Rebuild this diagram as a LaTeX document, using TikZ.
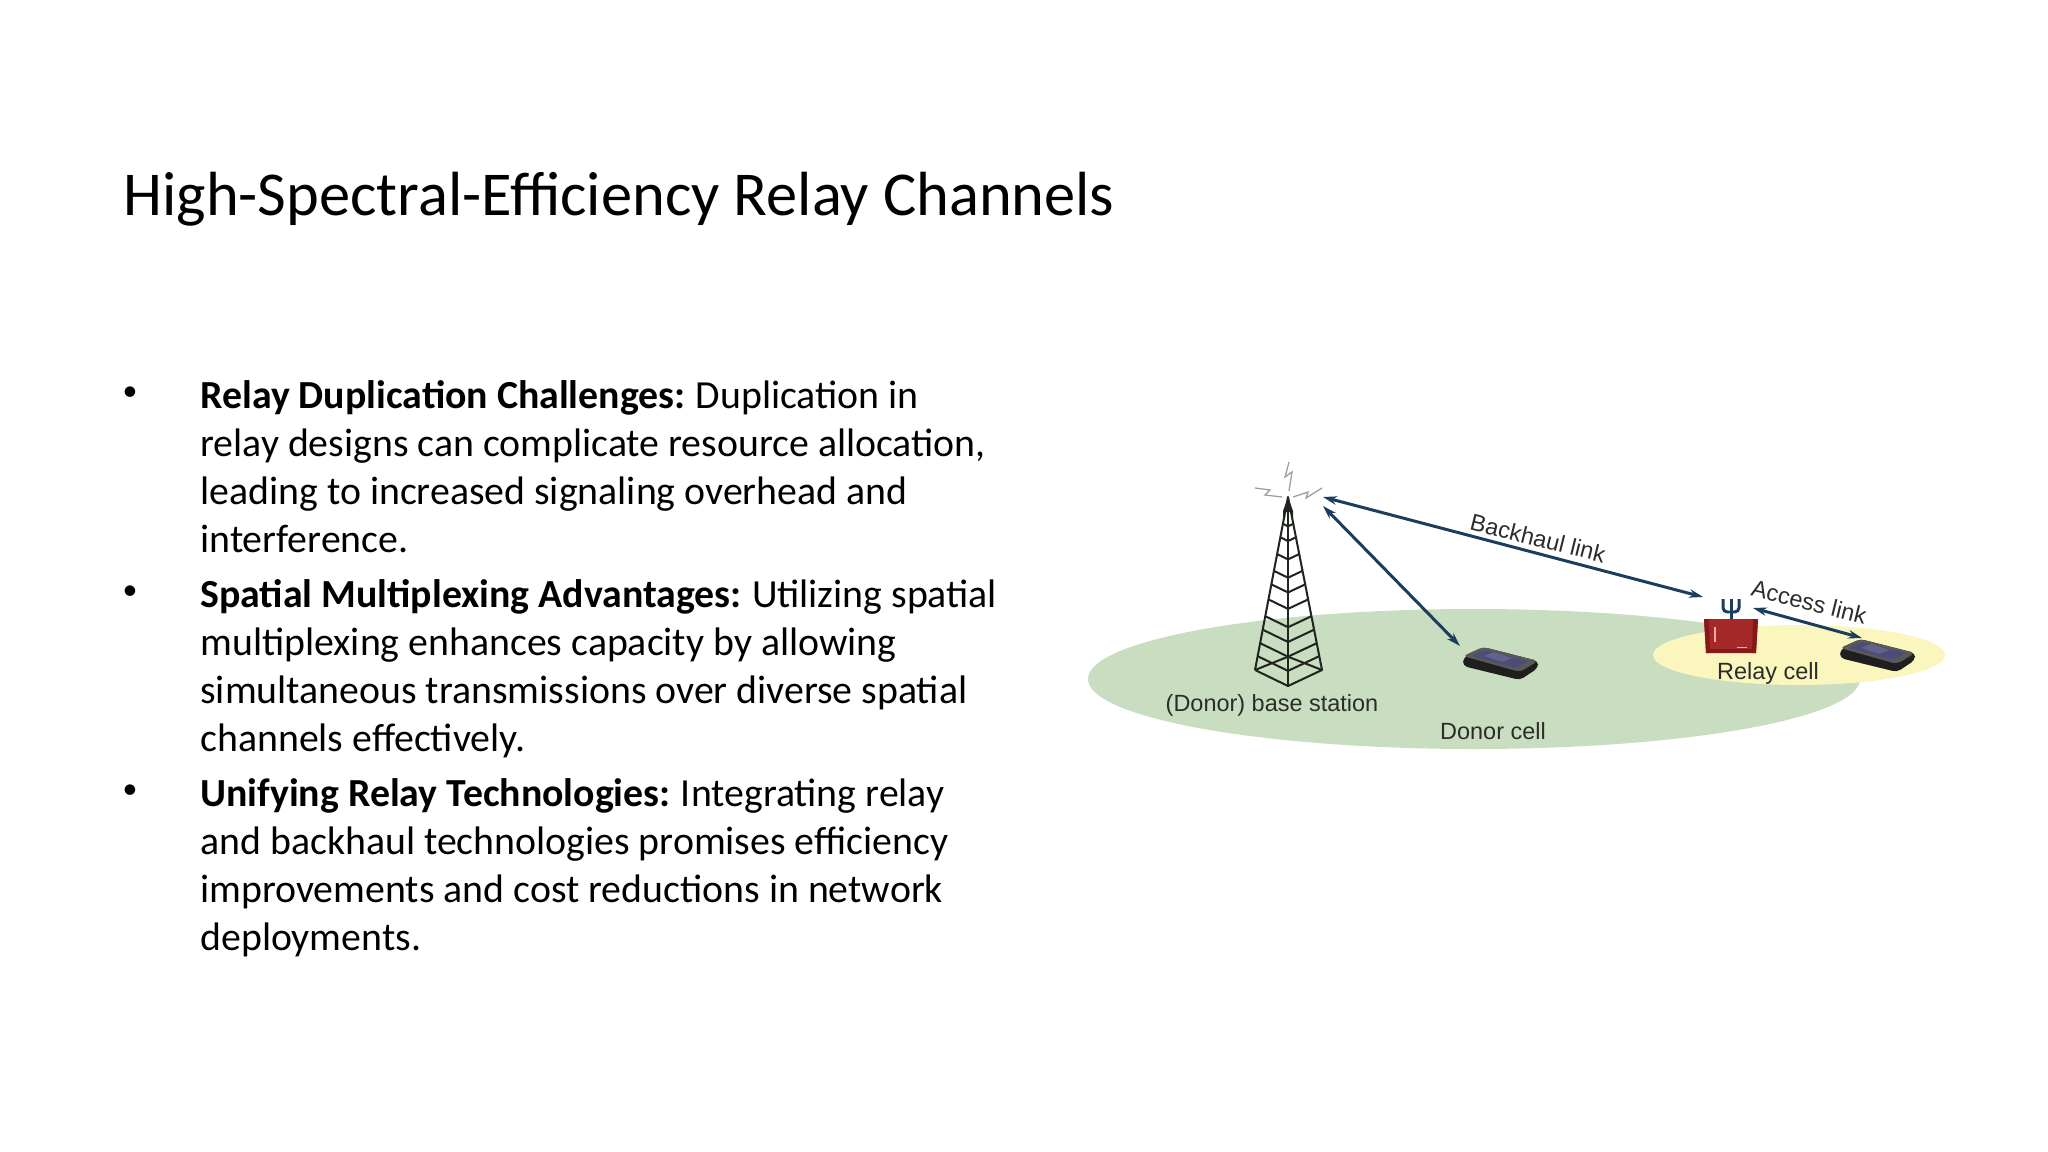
\documentclass[tikz,border=0pt]{standalone}
\usepackage{fontspec}
\setmainfont{Carlito}
\newfontfamily\labelfont{Liberation Sans}
\usetikzlibrary{arrows.meta,calc}
\definecolor{donorgreen}{HTML}{C9DDC0}
\definecolor{relayyellow}{HTML}{FAF6BE}
\definecolor{linkblue}{HTML}{1B3D5E}
\definecolor{towergrey}{HTML}{20261F}
\definecolor{labelgrey}{HTML}{2A2E2A}
\definecolor{relayred}{HTML}{A42A2A}
\definecolor{relaydark}{HTML}{86181A}
\tikzset{
  titletext/.style={anchor=base west,inner sep=0pt,font=\fontsize{29.26}{36}\selectfont},
  bodytext/.style={anchor=base west,inner sep=0pt,align=left,font=\fontsize{18.66}{22.4}\selectfont},
  bullettext/.style={inner sep=0pt,font=\fontsize{14}{16}\selectfont},
  celltext/.style={anchor=base,inner sep=0pt,text=labelgrey,font=\labelfont\fontsize{11}{12}\selectfont},
  linktext/.style={inner sep=0pt,rotate=-14,text=labelgrey,font=\labelfont\fontsize{11}{12}\selectfont},
  link/.style={linkblue,line width=1.4pt,{Stealth[length=6.5pt,width=4pt]}-{Stealth[length=6.5pt,width=4pt]}},
  spark/.style={black!38,line width=0.6pt},
  towerline/.style={towergrey,line width=0.95pt,line join=round},
  phone/.pic={
    \fill[black!88,rounded corners=2pt] (-37,-6) -- (-17,-17) -- (38,-3) -- (38,4) -- (20,16) -- (-37,2) -- cycle;
    \fill[black!65,rounded corners=2pt] (-37,-8) -- (-17,-17) -- (38,-3) -- (20,8) -- cycle;
    \fill[blue!25!black!70,rounded corners=1pt] (-28,-8) -- (-15,-14) -- (28,-3) -- (16,4) -- cycle;
    \fill[blue!30!white!55!black] (-16,-8) -- (-6,-12) -- (12,-6) -- (2,-2) -- cycle;
  }
}
\begin{document}
\begin{tikzpicture}[x=0.46875pt,y=-0.46875pt]
  \useasboundingbox (0,0) rectangle (2048,1152);
  % slide text
  \node[titletext] (title) at (123,215.3) {High-Spectral-Efficiency Relay Channels};
  \node[bullettext] (bulletA) at (130,393.5) {\textbullet};
  \node[bodytext] (duplication) at (200,552.3) {\textbf{Relay Duplication Challenges:}\kern-0.7pt{} Duplication in\\relay designs can complicate resource allocation,\\leading to increased signaling overhead and\\interference.};
  \node[bullettext] (bulletB) at (130,592.5) {\textbullet};
  \node[bodytext] (multiplexing) at (200,751.3) {\textbf{Spatial Multiplexing Advantages:}\kern-0.7pt{} Utilizing spatial\\multiplexing enhances capacity by allowing\\simultaneous transmissions over diverse spatial\\channels effectively.};
  \node[bullettext] (bulletC) at (130,791.5) {\textbullet};
  \node[bodytext] (unifying) at (200,950.3) {\textbf{Unifying Relay Technologies:}\kern-0.7pt{} Integrating relay\\and backhaul technologies promises efficiency\\improvements and cost reductions in network\\deployments.};
  % cells
  \fill[donorgreen] (1474,679) ellipse [x radius=386,y radius=70];
  \fill[relayyellow] (1799,655) ellipse [x radius=146,y radius=30];
  % tower
  \coordinate (apex) at (1288,497);
  \coordinate (baseL) at (1255,670);
  \coordinate (baseR) at (1322,670);
  \coordinate (baseF) at (1288,686);
  \draw[towerline] (baseL) -- (apex) -- (baseR) -- (baseF) -- (baseL);
  \draw[towerline] (apex) -- (baseF);
  \foreach \t in {0.155,0.233,0.33,0.427,0.505,0.592,0.689,0.767,0.845,0.92} {
    \draw[towerline] ($(apex)!\t!(baseL)$) -- ($(apex)!\t!(baseF)$) -- ($(apex)!\t!(baseR)$);
  }
  \draw[towerline] (baseL) -- ($(apex)!0.845!(baseF)$) -- (baseR);
  \fill[towergrey] (apex) -- (1293,511) -- (1293,518) -- (1291,518) -- (1291,512) -- (1285,512) -- (1285,518) -- (1283,518) -- (1283,511) -- cycle;
  % sparks
  \draw[spark] (1289,462) -- (1285,477) -- (1292,472) -- (1289,491);
  \draw[spark] (1255,488) -- (1270,490) -- (1265,495) -- (1282,497);
  \draw[spark] (1293,497) -- (1308,492) -- (1306,498) -- (1322,488);
  % relay
  \fill[relayred] (1704,619) -- (1758,619) -- (1756,653) -- (1706,653) -- cycle;
  \fill[relaydark] (1704,619) -- (1709,619) -- (1710,653) -- (1706,653) -- cycle;
  \fill[relaydark] (1753,619) -- (1758,619) -- (1756,653) -- (1752,653) -- cycle;
  \fill[relaydark] (1706,649) -- (1756,649) -- (1756,653) -- (1706,653) -- cycle;
  \draw[red!35!white,line width=0.6pt] (1715,627) -- (1715,642);
  \draw[red!35!white,line width=0.4pt] (1737,647) -- (1747,647);
  \draw[linkblue,line width=1.4pt] (1731,599) -- (1731,619);
  \draw[linkblue,line width=1.4pt,rounded corners=2pt] (1723,599) -- (1723,612) -- (1739,612) -- (1739,599);
  % phones
  \pic at (1500,664) {phone};
  \pic at (1877,656) {phone};
  % links
  \coordinate (towerA) at (1323,497);
  \coordinate (towerB) at (1323,506);
  \coordinate (relayA) at (1703,597);
  \coordinate (relayB) at (1753,608);
  \coordinate (phoneA) at (1460,646);
  \coordinate (phoneB) at (1862,638);
  \draw[link] (towerA) -- (relayA);
  \draw[link] (towerB) -- (phoneA);
  \draw[link] (relayB) -- (phoneB);
  % labels
  \node[celltext] (station) at (1272,711) {(Donor) base station};
  \node[celltext] (donor) at (1493,739) {Donor cell};
  \node[celltext] (relay) at (1768,679) {Relay cell};
  \node[linktext] (backhaul) at (1538,538) {Backhaul link};
  \node[linktext] (access) at (1809,602) {Access link};
\end{tikzpicture}
\end{document}
